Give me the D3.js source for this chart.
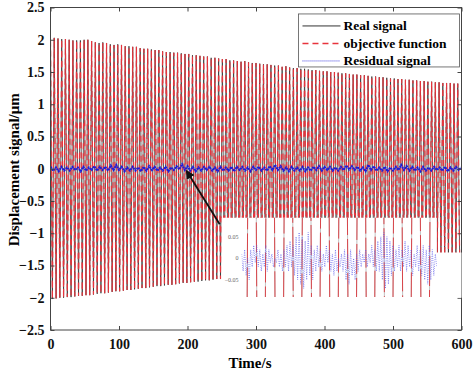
<!DOCTYPE html>
<html>
<head>
<meta charset="utf-8">
<script src="https://cdn.jsdelivr.net/npm/d3@7/dist/d3.min.js"></script>
<style>
  body { margin: 0; background: #fff; }
  text { font-family: "Liberation Serif", "Times New Roman", serif; }
</style>
</head>
<body>
<div id="chart"></div>
<script>
// Peak values of each oscillation cycle
var upperPeaks = [
  1.99, 2.03, 2.02, 2.01, 2.01, 2.00, 1.99, 1.99, 1.99, 2.00,
  2.00, 1.98, 1.96, 1.95, 1.96, 1.95, 1.93, 1.92, 1.93, 1.92,
  1.90, 1.90, 1.89, 1.89, 1.87, 1.86, 1.86, 1.85, 1.84, 1.84,
  1.82, 1.81, 1.81, 1.80, 1.80, 1.79, 1.78, 1.78, 1.76, 1.76,
  1.75, 1.74, 1.74, 1.72, 1.72, 1.71, 1.70, 1.70, 1.68, 1.68,
  1.67, 1.66, 1.67, 1.65, 1.64, 1.64, 1.63, 1.62, 1.62, 1.61,
  1.60, 1.60, 1.58, 1.59, 1.57, 1.56, 1.56, 1.55, 1.55, 1.54,
  1.53, 1.53, 1.52, 1.51, 1.51, 1.50, 1.50, 1.49, 1.48, 1.48,
  1.47, 1.46, 1.46, 1.45, 1.45, 1.44, 1.43, 1.43, 1.42, 1.42,
  1.41, 1.40, 1.40, 1.39, 1.39, 1.38, 1.38, 1.37, 1.37, 1.36,
  1.36, 1.35, 1.35, 1.34, 1.34, 1.33, 1.33, 1.33, 1.32, 1.32
];
var lowerPeaks = [
  -2.02, -2.01, -2.00, -2.00, -1.99, -1.99, -1.98, -1.97, -1.97, -1.96,
  -1.96, -1.95, -1.94, -1.93, -1.93, -1.92, -1.91, -1.90, -1.90, -1.89,
  -1.88, -1.88, -1.87, -1.86, -1.85, -1.85, -1.84, -1.83, -1.82, -1.82,
  -1.81, -1.80, -1.80, -1.79, -1.78, -1.77, -1.77, -1.76, -1.75, -1.75,
  -1.74, -1.73, -1.73, -1.72, -1.71, -1.71, -1.70, -1.69, -1.69, -1.68,
  -1.67, -1.67, -1.66, -1.65, -1.65, -1.64, -1.63, -1.63, -1.62, -1.61,
  -1.61, -1.60, -1.60, -1.59, -1.58, -1.58, -1.57, -1.56, -1.56, -1.55,
  -1.55, -1.54, -1.53, -1.53, -1.52, -1.52, -1.51, -1.50, -1.50, -1.49,
  -1.49, -1.48, -1.48, -1.47, -1.46, -1.46, -1.45, -1.45, -1.44, -1.44,
  -1.43, -1.43, -1.42, -1.42, -1.41, -1.41, -1.40, -1.40, -1.39, -1.39,
  -1.38, -1.38, -1.37, -1.37, -1.36, -1.36, -1.35, -1.35, -1.34, -1.34
];
var cyclePeriod = 600 / 110;

// Residual signal, one sample every 4 s
var residualStep = 4;
var residual = [
  0.03,-0.03,0.02,-0.04,0.03,-0.03,0.02,-0.03,0.03,-0.02,
  0.02,-0.04,0.03,-0.03,0.02,-0.02,0.04,-0.03,0.03,-0.02,
  0.03,-0.03,0.05,-0.02,0.06,-0.02,0.03,-0.04,0.02,-0.03,
  0.03,-0.03,0.02,-0.04,0.03,-0.03,0.04,-0.02,0.03,-0.03,
  0.02,-0.03,0.03,-0.04,0.02,-0.02,0.04,-0.01,0.07,-0.02,
  0.04,-0.03,0.03,-0.04,0.02,-0.03,0.03,-0.02,0.03,-0.03,
  0.02,-0.04,0.03,-0.03,0.02,-0.03,0.03,-0.04,0.03,-0.02,
  0.03,-0.03,0.02,-0.04,0.03,-0.02,0.03,-0.03,0.02,-0.03,
  0.04,-0.02,0.06,-0.02,0.04,-0.03,0.02,-0.04,0.03,-0.03,
  0.02,-0.03,0.03,-0.04,0.02,-0.03,0.03,-0.02,0.04,-0.03,
  0.03,-0.02,0.03,-0.03,0.02,-0.03,0.03,-0.02,0.05,-0.01,
  0.04,-0.02,0.03,-0.03,0.02,-0.04,0.06,-0.02,0.04,-0.03,
  0.02,-0.03,0.03,-0.04,0.02,-0.03,0.03,-0.02,0.06,-0.02,
  0.04,-0.03,0.03,-0.03,0.02,-0.04,0.03,-0.03,0.02,-0.03,
  0.03,-0.02,0.02,-0.03,0.03,-0.04,0.02,-0.03,0.03,-0.02,
  0.02
];

// Zoomed-in window shown in the inset
var insetDomain = [166, 224.4];
var insetResidual = [
  0.01,-0.03,0.02,-0.04,0.00,-0.05,0.02,-0.02,0.03,-0.01,
  0.03,-0.02,0.02,-0.03,0.01,-0.02,0.03,-0.03,0.02,-0.01,
  0.01,-0.02,0.00,-0.01,0.02,-0.02,0.01,-0.03,0.02,-0.02,
  0.03,-0.03,0.04,-0.02,0.03,-0.04,0.05,-0.05,0.06,-0.06,
  0.05,-0.07,0.04,-0.05,0.06,-0.04,0.03,-0.05,0.02,-0.03,
  0.03,-0.02,0.02,-0.03,0.01,-0.02,0.03,-0.01,0.02,-0.03,
  0.01,-0.04,0.02,-0.03,0.00,-0.02,0.01,-0.03,0.02,-0.05,
  0.01,-0.06,0.02,-0.04,0.00,-0.05,0.01,-0.03,0.02,-0.02,
  0.01,-0.01,0.02,-0.02,0.01,-0.01,0.03,-0.02,0.02,-0.03,
  0.04,-0.03,0.05,-0.05,0.06,-0.07,0.05,-0.06,0.04,-0.04,
  0.03,-0.03,0.02,-0.02,0.03,-0.03,0.02,-0.02,0.04,-0.03,
  0.03,-0.02,0.02,-0.04,0.01,-0.02,0.03,-0.03,0.02,-0.04,
  0.03,-0.05,0.02,-0.06,0.03,-0.05,0.02,-0.04,0.01,-0.02
];

var xTicks = [0, 100, 200, 300, 400, 500, 600];
var yTicks = [-2.5, -2, -1.5, -1, -0.5, 0, 0.5, 1, 1.5, 2, 2.5];
var insetYTicks = [0.05, 0, -0.05];
var legendLabels = ["Real signal", "objective function", "Residual signal"];

// Arrow from the inset to the zoomed spot (data coordinates)
var arrowFrom = [247, -0.86];
var arrowTo = [199, -0.04];

var svgWidth = 474;
var svgHeight = 371;
var chartMargin = { top: 7.5, right: 12.5, bottom: 41, left: 50.5 };
var width = svgWidth - chartMargin.left - chartMargin.right;
var height = svgHeight - chartMargin.top - chartMargin.bottom;

var svg = d3.select("#chart").append("svg")
  .attr("width", svgWidth)
  .attr("height", svgHeight);

var chartGroup = svg.append("g")
  .attr("transform", `translate(${chartMargin.left}, ${chartMargin.top})`);

var xScale = d3.scaleLinear().domain([0, 600]).range([0, width]);
var yScale = d3.scaleLinear().domain([-2.5, 2.5]).range([height, 0]);

// signal points: upper peak then lower peak for each cycle
var signal = [];
upperPeaks.forEach(function(v, i) {
  signal.push({ t: i * cyclePeriod, v: v });
  signal.push({ t: i * cyclePeriod + cyclePeriod / 2, v: lowerPeaks[i] });
});
var residualPts = residual.map(function(v, i) { return { t: i * residualStep, v: v }; });

svg.append("defs").append("clipPath").attr("id", "plotClip")
  .append("rect").attr("width", width).attr("height", height);

var plot = chartGroup.append("g").attr("clip-path", "url(#plotClip)");

var line = d3.line().x(d => xScale(d.t)).y(d => yScale(d.v));

plot.append("path").datum(signal)
  .attr("d", line).attr("fill", "none")
  .attr("stroke", "#333").attr("stroke-width", 0.8);

plot.append("path").datum(signal)
  .attr("d", line).attr("fill", "none")
  .attr("stroke", "#e8343c").attr("stroke-width", 1.2)
  .attr("stroke-dasharray", "6,4");

plot.append("path").datum(residualPts)
  .attr("d", line).attr("fill", "none")
  .attr("stroke", "#1e1ed8").attr("stroke-width", 2)
  .attr("stroke-dasharray", "2,0.6");

// axes (MATLAB style: ticks point inward, box all round)
var axisColor = "#444";
var bottomAxis = d3.axisBottom(xScale).tickValues(xTicks).tickSize(-4).tickPadding(9);
var leftAxis = d3.axisLeft(yScale).tickValues(yTicks).tickSize(-4).tickPadding(6)
  .tickFormat(d3.format("~g"));

var gx = chartGroup.append("g").attr("transform", `translate(0, ${height})`).call(bottomAxis);
var gy = chartGroup.append("g").call(leftAxis);
chartGroup.append("g").call(d3.axisTop(xScale).tickValues(xTicks).tickSize(-4).tickFormat(""));
chartGroup.append("g").attr("transform", `translate(${width}, 0)`)
  .call(d3.axisRight(yScale).tickValues(yTicks).tickSize(-4).tickFormat(""));

chartGroup.selectAll(".domain").remove();
chartGroup.selectAll(".tick line").attr("stroke", axisColor);
[gx, gy].forEach(function(g) {
  g.selectAll("text")
    .attr("font-family", "Liberation Serif, Times New Roman, serif")
    .attr("font-size", "14px").attr("font-weight", "bold").attr("fill", "#111");
});

chartGroup.append("rect")
  .attr("width", width).attr("height", height)
  .attr("fill", "none").attr("stroke", axisColor).attr("stroke-width", 1);

// axis titles
chartGroup.append("text")
  .attr("transform", `translate(${width / 2 - 6}, ${height + 38})`)
  .attr("text-anchor", "middle")
  .attr("font-size", "15px").attr("font-weight", "bold")
  .text("Time/s");

chartGroup.append("text")
  .attr("transform", `translate(${-chartMargin.left + 19}, ${height / 2 + 1}) rotate(-90)`)
  .attr("text-anchor", "middle")
  .attr("font-size", "15px").attr("font-weight", "bold")
  .text("Displacement signal/μm");

// legend
var legend = chartGroup.append("g").attr("transform", `translate(${xScale(362)}, ${yScale(2.4)})`);
legend.append("rect")
  .attr("width", 161).attr("height", 53)
  .attr("fill", "#fff").attr("stroke", "#555").attr("stroke-width", 0.8);
var legendStyles = [
  { stroke: "#333", w: 1, dash: null },
  { stroke: "#e8343c", w: 1.5, dash: "6,4" },
  { stroke: "#4040e0", w: 1, dash: "1,1" }
];
legendLabels.forEach(function(label, i) {
  var ly = 12 + i * 17.5;
  legend.append("line")
    .attr("x1", 4).attr("x2", 42).attr("y1", ly).attr("y2", ly)
    .attr("stroke", legendStyles[i].stroke)
    .attr("stroke-width", legendStyles[i].w)
    .attr("stroke-dasharray", legendStyles[i].dash);
  legend.append("text")
    .attr("x", 45).attr("y", ly + 4.5)
    .attr("font-size", "13.5px").attr("font-weight", "bold")
    .text(label);
});

// inset: white patch cut out of the lower right of the plot
var patch = [[250, -0.76], [564, -0.76], [564, -1.3], [600, -1.3], [600, -2.0], [250, -2.0]];
chartGroup.append("path")
  .attr("d", d3.line().x(d => xScale(d[0])).y(d => yScale(d[1]))(patch) + "Z")
  .attr("fill", "#fff");

var insetX0 = xScale(279), insetX1 = xScale(564);
var insetY0 = yScale(-0.76), insetY1 = yScale(-1.99);
var insetW = insetX1 - insetX0, insetH = insetY1 - insetY0;
var inset = chartGroup.append("g").attr("transform", `translate(${insetX0}, ${insetY0})`);

var ixScale = d3.scaleLinear().domain(insetDomain).range([0, insetW]);
var iyScale = d3.scaleLinear().domain([-0.09, 0.094]).range([insetH, 0]);

svg.select("defs").append("clipPath").attr("id", "insetClip")
  .append("rect").attr("width", insetW).attr("height", insetH);
var insetPlot = inset.append("g").attr("clip-path", "url(#insetClip)");

var iline = d3.line().x(d => ixScale(d.t)).y(d => iyScale(d.v));
var insetSignal = signal.filter(d => d.t > insetDomain[0] - cyclePeriod && d.t < insetDomain[1] + cyclePeriod);

insetPlot.append("path").datum(insetSignal)
  .attr("d", iline).attr("fill", "none")
  .attr("stroke", "#999").attr("stroke-width", 0.6);
insetPlot.append("path").datum(insetSignal)
  .attr("d", iline).attr("fill", "none")
  .attr("stroke", "#d8454a").attr("stroke-width", 1)
  .attr("stroke-dasharray", "30,4");

var insetStep = (insetDomain[1] - insetDomain[0]) / (insetResidual.length - 1);
var insetResPts = insetResidual.map((v, i) => ({ t: insetDomain[0] + i * insetStep, v: v }));
insetPlot.append("path").datum(insetResPts)
  .attr("d", iline).attr("fill", "none")
  .attr("stroke", "#5a5aec").attr("stroke-width", 0.8)
  .attr("stroke-dasharray", "0.8,1.4");

inset.selectAll(".itick").data(insetYTicks).enter().append("text")
  .attr("x", -3).attr("y", d => iyScale(d) + 2)
  .attr("text-anchor", "end")
  .attr("font-family", "Liberation Sans, Arial, sans-serif")
  .attr("font-size", "6px").attr("fill", "#666")
  .text(d => d3.format("~g")(d));

// arrow
svg.select("defs").append("marker")
  .attr("id", "arrowHead").attr("viewBox", "0 0 10 10")
  .attr("refX", 8).attr("refY", 5)
  .attr("markerWidth", 5).attr("markerHeight", 5)
  .attr("orient", "auto")
  .append("path").attr("d", "M0,0L10,5L0,10Z").attr("fill", "#111");

chartGroup.append("line")
  .attr("x1", xScale(arrowFrom[0])).attr("y1", yScale(arrowFrom[1]))
  .attr("x2", xScale(arrowTo[0])).attr("y2", yScale(arrowTo[1]))
  .attr("stroke", "#111").attr("stroke-width", 1.8)
  .attr("marker-end", "url(#arrowHead)");
</script>
</body>
</html>
